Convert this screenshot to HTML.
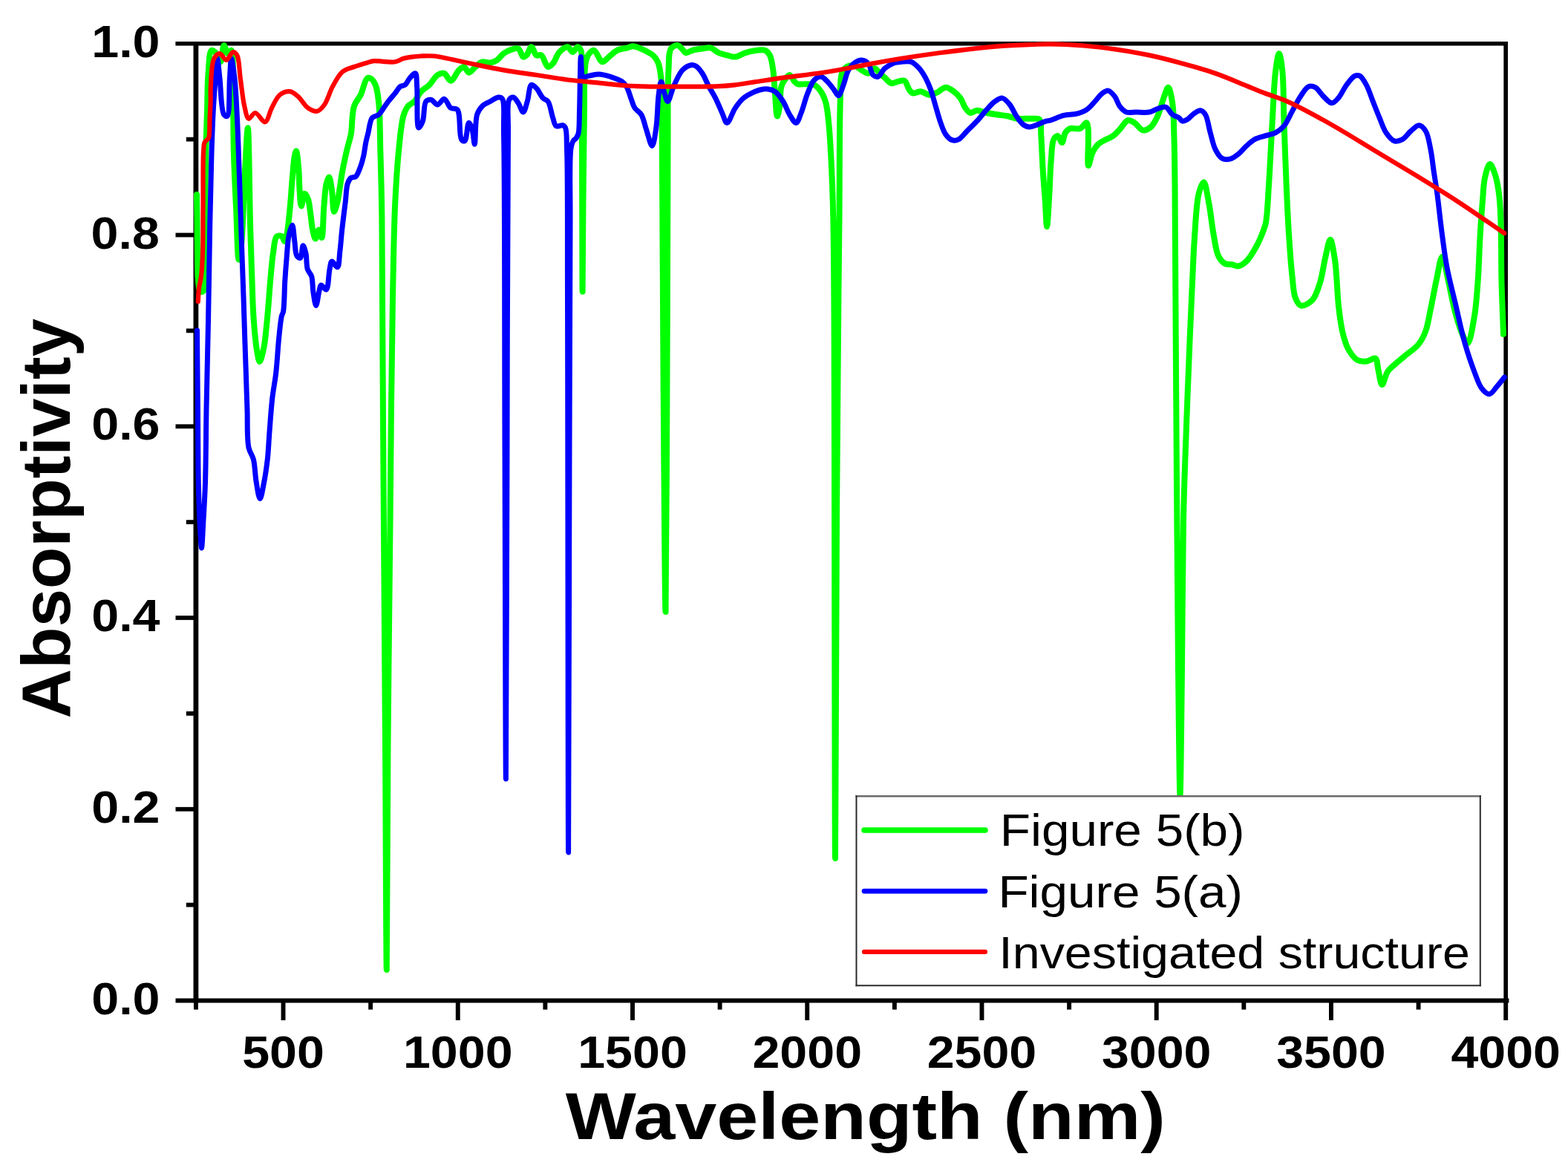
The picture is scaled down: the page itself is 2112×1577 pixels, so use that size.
<!DOCTYPE html>
<html><head><meta charset="utf-8"><title>Absorptivity vs Wavelength</title>
<style>html,body{margin:0;padding:0;background:#fff;overflow:hidden}svg{display:block}</style>
</head><body><svg width="2112" height="1577" viewBox="0 0 2112 1577"><rect id="bg" x="0" y="0" width="2112" height="1577" fill="#fff"/><g stroke="#000" stroke-linecap="butt"><line x1="263.9" y1="56" x2="263.9" y2="1350.2" stroke-width="6.8"/><line x1="236.4" y1="58.75" x2="2031" y2="58.75" stroke-width="5.5"/><line x1="2028.2" y1="56" x2="2028.2" y2="1350.2" stroke-width="5.7"/><line x1="236.5" y1="1347.50" x2="2032.4" y2="1347.50" stroke-width="5.9"/><line x1="250.8" y1="1218.62" x2="263.9" y2="1218.62" stroke-width="5.8"/><line x1="236.5" y1="1089.75" x2="263.9" y2="1089.75" stroke-width="5.8"/><line x1="250.8" y1="960.88" x2="263.9" y2="960.88" stroke-width="5.8"/><line x1="236.5" y1="832.00" x2="263.9" y2="832.00" stroke-width="5.8"/><line x1="250.8" y1="703.12" x2="263.9" y2="703.12" stroke-width="5.8"/><line x1="236.5" y1="574.25" x2="263.9" y2="574.25" stroke-width="5.8"/><line x1="250.8" y1="445.38" x2="263.9" y2="445.38" stroke-width="5.8"/><line x1="236.5" y1="316.50" x2="263.9" y2="316.50" stroke-width="5.8"/><line x1="250.8" y1="187.62" x2="263.9" y2="187.62" stroke-width="5.8"/><line x1="263.90" y1="1347.5" x2="263.90" y2="1359.6" stroke-width="5.9"/><line x1="381.52" y1="1347.5" x2="381.52" y2="1374.0" stroke-width="5.9"/><line x1="499.14" y1="1347.5" x2="499.14" y2="1359.6" stroke-width="5.9"/><line x1="616.76" y1="1347.5" x2="616.76" y2="1374.0" stroke-width="5.9"/><line x1="734.38" y1="1347.5" x2="734.38" y2="1359.6" stroke-width="5.9"/><line x1="852.00" y1="1347.5" x2="852.00" y2="1374.0" stroke-width="5.9"/><line x1="969.62" y1="1347.5" x2="969.62" y2="1359.6" stroke-width="5.9"/><line x1="1087.24" y1="1347.5" x2="1087.24" y2="1374.0" stroke-width="5.9"/><line x1="1204.86" y1="1347.5" x2="1204.86" y2="1359.6" stroke-width="5.9"/><line x1="1322.48" y1="1347.5" x2="1322.48" y2="1374.0" stroke-width="5.9"/><line x1="1440.10" y1="1347.5" x2="1440.10" y2="1359.6" stroke-width="5.9"/><line x1="1557.72" y1="1347.5" x2="1557.72" y2="1374.0" stroke-width="5.9"/><line x1="1675.34" y1="1347.5" x2="1675.34" y2="1359.6" stroke-width="5.9"/><line x1="1792.96" y1="1347.5" x2="1792.96" y2="1374.0" stroke-width="5.9"/><line x1="1910.58" y1="1347.5" x2="1910.58" y2="1359.6" stroke-width="5.9"/><line x1="2028.20" y1="1347.5" x2="2028.20" y2="1374.0" stroke-width="5.9"/></g><defs><clipPath id="pc"><rect x="257.9" y="53.8" width="1774.3" height="1298.8"/></clipPath></defs><g clip-path="url(#pc)" fill="none" stroke-linejoin="round" stroke-linecap="round"><path d="M265.0,262.0C265.2,274.7 265.3,286.5 265.5,300.0C265.7,315.5 265.7,335.7 266.0,350.0C266.2,360.7 266.1,370.1 267.0,378.0C267.7,383.8 268.0,391.7 270.0,393.0C271.1,393.7 273.0,393.2 274.0,392.0C276.3,389.2 275.1,379.4 275.5,370.0C276.2,353.2 276.1,322.4 276.3,300.0C276.5,279.2 276.6,258.6 276.8,240.0C277.0,223.9 277.1,210.0 277.5,195.0C277.9,180.0 278.5,165.4 279.0,150.0C279.5,133.8 279.2,114.8 280.5,100.0C281.5,88.1 281.5,69.6 285.0,68.0C286.7,67.2 289.7,70.1 291.6,72.2C294.0,74.8 295.7,83.5 297.2,83.3C299.3,83.0 299.6,61.4 301.6,61.1C303.1,60.9 305.1,71.9 307.1,72.2C308.5,72.4 310.4,67.3 311.6,67.8C314.9,69.1 313.3,97.9 313.8,116.6C314.5,141.8 314.1,176.7 314.9,205.3C315.6,232.1 317.0,258.2 318.2,283.1C319.3,306.2 319.9,349.6 321.6,349.7C322.6,349.8 324.0,339.1 325.0,330.0C327.3,309.5 328.3,258.8 330.0,230.0C331.3,208.1 332.7,172.2 333.8,172.2C335.4,172.2 336.0,268.2 337.1,305.0C337.9,331.1 338.5,350.8 339.3,372.0C340.0,391.2 340.3,409.6 341.5,427.0C342.6,442.7 344.1,460.8 346.0,471.7C347.1,478.2 348.3,487.0 349.8,487.0C351.4,487.0 353.8,475.5 355.3,468.5C357.2,459.7 358.0,448.0 359.1,438.0C360.1,428.5 360.8,419.3 361.6,410.0C362.4,400.9 362.8,393.1 363.7,383.0C364.9,370.0 366.3,350.4 368.2,338.6C369.5,330.6 369.6,321.3 372.6,318.6C374.3,317.1 377.5,317.1 379.3,318.0C381.3,319.0 382.3,325.1 383.5,325.0C384.8,324.8 385.6,319.4 386.5,315.0C388.2,306.8 389.5,291.2 390.7,279.0C391.9,266.5 392.6,253.0 393.7,241.0C394.7,230.3 395.4,217.0 396.8,210.5C397.5,207.3 398.3,203.5 399.0,203.6C400.2,203.7 401.3,217.7 402.1,225.7C403.0,235.0 402.9,246.9 403.6,256.1C404.2,263.9 404.6,277.4 405.9,277.5C407.0,277.6 408.6,261.0 410.5,260.7C411.8,260.5 413.8,265.1 415.0,268.3C416.7,273.0 417.1,280.2 418.1,286.6C419.2,293.8 419.7,303.0 421.1,309.4C422.1,314.1 423.5,321.6 424.9,321.6C426.3,321.6 428.1,309.4 429.5,309.4C430.8,309.4 432.3,320.2 433.3,320.1C435.2,319.8 435.2,291.7 436.3,279.0C437.3,268.1 437.7,255.8 439.4,248.5C440.4,244.2 442.1,238.5 443.2,238.6C444.7,238.7 445.9,249.5 447.0,256.1C448.3,264.5 448.3,284.9 450.0,285.1C451.2,285.2 453.4,276.3 454.6,271.4C456.0,265.8 456.7,259.3 457.7,253.1C458.7,246.6 459.5,240.1 460.7,233.3C462.0,226.0 463.7,217.7 465.3,210.5C466.7,204.0 468.4,197.7 469.8,192.2C470.9,187.7 472.0,185.2 472.9,180.0C474.5,171.1 473.8,152.6 476.9,143.2C479.0,136.7 483.0,133.4 485.8,127.7C489.0,121.1 491.3,107.7 494.6,105.5C496.0,104.5 497.6,104.8 499.1,105.5C501.4,106.6 504.0,110.4 505.7,114.3C508.3,120.2 509.1,128.6 510.2,138.8C512.0,155.5 511.7,181.5 512.4,205.3C513.2,232.7 513.9,256.3 514.4,294.0C515.3,360.6 515.3,467.8 516.0,570.0C516.8,697.5 518.2,868.8 519.0,1000.0C519.7,1110.7 520.2,1306.0 520.8,1306.0C521.4,1306.0 521.7,1101.7 522.5,1000.0C523.3,898.8 524.8,781.9 525.6,697.0C526.2,635.5 526.5,589.1 527.1,538.0C527.7,490.4 528.1,445.1 529.0,400.0C529.9,356.5 530.5,309.3 532.3,271.9C533.7,242.8 535.6,215.5 537.9,194.2C539.5,179.2 540.7,165.2 543.4,156.0C545.1,150.4 546.7,146.5 549.4,143.2C551.8,140.2 555.6,139.4 558.3,136.5C561.6,133.0 563.7,127.0 567.2,123.2C570.5,119.6 574.8,117.8 578.3,114.3C582.2,110.5 585.5,103.5 589.4,101.0C592.3,99.2 595.6,97.9 598.3,98.8C601.6,99.8 604.1,108.9 607.1,108.8C610.7,108.7 614.7,97.6 618.2,94.4C620.5,92.2 622.8,89.7 624.9,90.0C627.3,90.3 629.0,97.5 631.5,97.7C634.2,97.9 637.4,92.4 640.4,90.0C643.3,87.6 646.0,84.2 649.3,83.3C652.6,82.4 657.0,84.8 660.4,84.4C663.6,84.0 666.5,82.9 669.3,81.1C672.5,79.0 674.8,74.6 678.1,72.2C681.4,69.8 685.6,67.7 689.2,66.6C692.2,65.7 695.6,64.3 698.1,65.5C701.1,66.9 702.5,75.9 704.8,76.6C706.2,77.0 707.8,75.7 709.2,74.4C711.5,72.3 713.6,63.3 715.8,63.3C718.0,63.3 719.8,72.9 722.5,74.4C724.5,75.5 727.1,73.2 729.2,74.4C732.6,76.4 734.8,89.2 738.0,90.0C740.1,90.5 742.6,87.8 744.7,85.5C747.9,82.1 749.9,73.8 753.6,70.0C756.8,66.8 761.6,62.9 764.7,63.3C767.3,63.6 769.1,70.0 771.3,70.0C773.5,70.0 776.0,63.3 778.0,63.3C779.6,63.3 781.3,65.2 782.4,67.8C785.5,75.2 783.2,95.8 783.5,116.6C784.0,153.8 784.0,223.4 784.2,271.9C784.4,314.7 784.4,392.8 784.6,392.8C784.8,392.8 785.1,311.3 785.5,271.9C785.9,234.1 786.1,194.7 786.8,161.0C787.4,132.8 786.0,97.4 789.0,83.3C790.2,77.8 791.3,74.9 793.5,72.2C795.3,70.0 797.9,67.4 800.2,67.8C803.7,68.5 807.4,82.7 811.2,83.3C814.1,83.8 817.0,79.0 820.1,76.6C823.6,73.9 827.1,69.8 831.2,67.8C835.4,65.8 841.1,65.4 845.0,64.4C848.0,63.6 849.8,62.1 852.8,62.2C857.1,62.4 863.7,65.6 868.3,67.8C872.4,69.7 876.4,71.7 879.4,74.4C882.2,76.9 884.3,79.4 886.0,83.3C888.5,88.8 889.5,96.4 890.5,105.5C892.1,119.8 891.3,134.7 891.6,161.0C892.4,226.1 892.7,388.3 893.5,500.0C894.3,609.2 895.7,824.0 896.5,824.0C897.3,824.0 898.0,605.9 898.5,500.0C899.0,398.1 899.0,274.5 899.5,200.0C899.8,155.8 899.0,118.6 900.5,94.4C901.3,81.7 900.2,70.6 903.8,65.5C905.9,62.5 910.0,60.8 912.7,61.1C915.2,61.4 917.3,64.8 919.3,66.6C921.0,68.1 921.9,70.7 923.8,71.1C926.1,71.6 929.3,68.7 932.6,67.8C936.5,66.7 941.7,66.1 945.9,65.5C949.8,65.0 953.4,63.6 957.0,64.4C960.8,65.3 964.3,69.4 968.1,71.1C971.7,72.7 975.5,73.5 979.2,74.4C982.9,75.3 986.6,76.9 990.3,76.6C994.1,76.3 997.7,73.5 1001.4,72.2C1005.1,70.9 1008.3,69.6 1012.5,68.9C1017.7,68.0 1026.0,66.2 1030.3,67.8C1033.4,69.0 1035.2,71.3 1036.9,74.4C1039.4,79.0 1040.2,87.2 1041.3,94.4C1042.6,102.6 1042.7,111.5 1043.6,121.0C1044.6,132.0 1045.4,156.4 1046.9,156.5C1047.8,156.6 1049.3,148.4 1050.2,143.2C1051.4,135.9 1050.6,123.0 1052.4,116.6C1053.5,112.7 1055.0,110.3 1056.9,107.7C1058.7,105.1 1061.4,100.9 1063.5,101.0C1065.8,101.2 1068.1,107.8 1070.2,109.9C1071.7,111.4 1072.7,112.6 1074.6,113.2C1077.4,114.1 1082.0,113.0 1085.7,113.2C1089.4,113.4 1093.5,112.8 1096.8,114.3C1100.3,115.9 1103.2,119.5 1105.7,123.2C1108.6,127.5 1110.7,132.5 1112.4,138.8C1114.8,147.7 1115.6,159.5 1116.8,172.0C1118.3,188.1 1119.2,208.2 1120.1,227.5C1121.1,248.7 1121.8,269.3 1122.3,294.0C1123.0,325.2 1123.1,348.6 1123.4,400.0C1124.3,537.3 1124.3,1156.0 1125.0,1156.0C1125.6,1156.0 1126.2,836.1 1127.0,700.0C1127.7,589.6 1128.7,474.6 1129.4,400.0C1129.8,355.7 1130.1,332.7 1130.5,294.0C1130.9,247.2 1130.6,173.6 1131.7,138.8C1132.3,121.1 1130.9,107.1 1133.9,98.8C1135.5,94.5 1137.6,91.7 1140.5,90.0C1143.5,88.3 1148.2,88.0 1151.6,88.8C1154.9,89.6 1157.5,92.7 1160.5,94.4C1163.4,96.0 1166.5,99.1 1169.4,98.8C1172.5,98.5 1175.6,92.0 1178.3,92.2C1180.8,92.4 1182.6,96.7 1184.9,98.8C1187.1,100.8 1189.2,102.4 1191.6,104.4C1194.3,106.7 1197.2,111.3 1200.4,112.1C1203.2,112.8 1206.3,110.5 1209.3,109.9C1212.3,109.4 1215.8,107.5 1218.2,108.8C1221.2,110.4 1222.6,118.1 1224.8,121.0C1226.3,123.0 1227.3,124.8 1229.3,125.4C1232.0,126.2 1236.8,122.9 1240.4,123.2C1244.2,123.6 1247.8,127.5 1251.5,127.7C1255.2,127.9 1259.0,125.9 1262.6,124.3C1266.4,122.6 1270.0,117.8 1273.7,117.7C1277.4,117.6 1281.5,120.8 1284.8,123.2C1288.1,125.6 1291.1,128.6 1293.6,132.1C1296.3,135.9 1297.8,141.9 1300.3,145.4C1302.3,148.2 1304.3,151.4 1306.9,152.0C1309.5,152.6 1312.5,148.9 1315.8,148.7C1319.8,148.5 1324.6,151.1 1329.1,152.0C1333.5,152.9 1337.8,153.6 1342.4,154.3C1347.4,155.1 1353.3,155.5 1358.0,156.5C1362.0,157.4 1365.4,159.3 1369.1,159.8C1372.8,160.3 1376.5,159.8 1380.2,159.8C1383.9,159.8 1387.8,159.6 1391.3,159.8C1394.4,160.0 1398.1,158.9 1400.1,160.9C1403.2,164.1 1401.6,174.4 1402.3,183.1C1403.2,195.4 1403.7,212.7 1404.6,227.5C1405.5,242.3 1406.9,258.2 1407.9,271.9C1408.7,283.8 1409.3,305.2 1410.1,305.2C1411.1,305.2 1412.5,275.6 1413.4,260.8C1414.3,246.0 1414.5,229.6 1415.7,216.4C1416.7,205.7 1416.5,192.8 1419.4,187.6C1420.9,185.0 1423.3,182.8 1425.0,183.1C1427.1,183.5 1428.9,192.2 1430.5,192.0C1432.3,191.8 1432.8,182.0 1435.0,178.7C1436.8,176.1 1438.8,174.1 1441.6,173.1C1445.1,171.8 1451.1,174.5 1454.9,173.1C1458.5,171.8 1461.7,164.5 1463.8,165.4C1468.6,167.5 1463.6,222.8 1466.0,223.1C1467.3,223.3 1469.1,210.4 1471.6,205.3C1473.7,201.0 1476.1,197.2 1479.3,194.2C1482.4,191.3 1486.9,189.5 1490.4,187.6C1493.5,185.9 1496.5,185.1 1499.3,183.1C1502.5,180.8 1505.1,177.5 1508.2,174.3C1511.7,170.6 1515.5,162.9 1519.3,162.0C1522.2,161.3 1525.2,163.6 1528.2,165.4C1531.9,167.7 1535.4,174.7 1539.3,175.4C1542.8,176.0 1547.2,173.5 1550.3,170.9C1554.0,167.7 1556.5,162.2 1559.2,156.5C1562.6,149.1 1565.3,137.0 1568.1,129.9C1570.0,125.0 1571.9,117.6 1573.6,117.7C1575.7,117.9 1577.9,130.4 1579.2,138.8C1581.1,150.8 1580.9,166.8 1581.4,183.1C1582.1,203.0 1582.2,220.4 1582.5,249.7C1583.1,306.5 1583.4,406.8 1584.0,500.0C1584.8,617.8 1585.8,794.6 1587.0,900.0C1587.8,968.9 1588.7,1071.0 1589.5,1071.0C1590.3,1071.0 1591.3,959.2 1592.0,900.0C1592.8,835.9 1592.8,758.3 1594.0,700.0C1594.9,654.6 1596.4,619.8 1597.8,579.0C1599.3,537.2 1601.3,488.6 1602.8,452.2C1603.9,424.8 1604.9,403.0 1606.0,380.0C1607.0,359.1 1607.5,339.9 1609.0,320.0C1610.4,300.2 1611.3,274.0 1614.7,260.8C1616.5,253.8 1619.3,245.1 1621.3,245.3C1623.9,245.5 1626.0,261.9 1628.0,271.9C1630.6,284.7 1632.2,303.0 1634.7,316.2C1636.7,326.9 1637.8,338.3 1641.3,345.1C1643.7,349.7 1646.9,353.4 1650.2,355.1C1652.9,356.5 1656.2,355.7 1659.1,356.2C1662.1,356.8 1664.9,358.9 1667.9,358.4C1671.5,357.9 1675.5,355.1 1679.0,351.7C1683.8,347.1 1688.5,338.6 1692.3,331.8C1695.9,325.3 1699.0,317.6 1701.2,311.8C1702.9,307.4 1703.9,305.4 1705.0,300.0C1707.1,289.2 1707.7,269.1 1709.0,250.0C1710.7,224.6 1712.2,188.5 1713.9,161.0C1715.3,137.2 1716.1,110.6 1718.3,94.4C1719.6,85.0 1721.3,72.2 1722.8,72.2C1724.3,72.2 1726.1,85.0 1727.2,94.4C1729.1,110.6 1728.6,137.2 1729.4,161.0C1730.4,188.5 1731.5,222.3 1732.7,249.7C1733.7,273.5 1734.7,295.1 1736.1,316.3C1737.4,335.7 1738.7,356.2 1740.5,371.8C1741.8,383.2 1742.0,394.3 1744.9,401.4C1746.8,406.0 1749.1,410.8 1752.5,411.6C1756.4,412.5 1763.7,408.2 1767.7,404.0C1772.6,398.9 1775.0,389.8 1777.8,381.2C1781.2,370.8 1782.8,356.2 1785.4,345.7C1787.5,337.2 1789.8,322.7 1791.8,322.8C1794.0,322.9 1796.4,339.4 1798.1,350.7C1800.7,367.5 1801.1,396.4 1803.2,414.1C1804.7,426.9 1805.9,437.2 1808.3,447.1C1810.3,455.5 1812.3,463.4 1815.9,469.9C1819.2,475.8 1823.7,482.5 1828.5,485.1C1832.4,487.2 1837.1,486.8 1841.2,486.4C1845.2,486.0 1850.1,481.2 1852.6,482.6C1855.5,484.2 1855.0,492.4 1856.4,497.8C1858.0,504.1 1859.3,517.9 1861.5,518.1C1863.6,518.3 1865.8,505.2 1869.1,500.4C1871.9,496.2 1875.5,493.7 1879.3,490.2C1883.8,486.1 1889.4,481.7 1894.5,477.5C1899.6,473.3 1905.5,469.8 1909.7,464.8C1914.0,459.7 1917.0,454.2 1919.8,447.1C1923.4,438.0 1924.9,425.5 1927.4,414.1C1930.0,401.9 1932.3,388.0 1935.0,376.1C1937.4,365.4 1940.1,345.7 1942.7,345.7C1945.2,345.7 1947.7,364.9 1950.3,376.1C1953.5,389.7 1956.6,408.1 1960.4,421.7C1963.5,433.0 1967.2,444.9 1970.6,452.2C1972.7,456.6 1974.9,462.6 1976.9,462.3C1980.3,461.8 1983.5,439.8 1985.8,426.8C1988.5,411.5 1989.5,393.4 1990.8,376.1C1992.1,357.9 1992.4,338.2 1993.5,320.0C1994.5,302.8 1995.7,284.7 1997.0,270.0C1998.0,258.3 1998.1,247.5 2000.2,238.6C2001.8,231.7 2004.4,221.0 2006.8,220.9C2008.9,220.8 2011.6,228.9 2013.5,234.2C2016.0,241.4 2017.7,251.0 2019.0,260.8C2020.6,272.6 2020.9,284.6 2021.5,300.0C2022.3,322.0 2021.9,354.2 2022.5,380.0C2023.1,404.1 2024.2,426.7 2025.0,450.0" stroke="#00ff00" stroke-width="8"/><path d="M265.5,445.0C265.8,483.3 266.2,523.0 266.5,560.0C266.8,594.5 266.7,630.9 267.5,660.0C268.1,682.5 269.1,705.9 270.0,720.0C270.5,727.8 271.0,738.0 271.5,738.0C272.3,738.0 273.2,713.5 274.0,700.0C274.9,684.5 275.9,669.5 276.5,650.0C277.4,622.4 277.4,584.6 278.0,550.0C278.7,512.5 279.7,472.9 280.5,433.0C281.3,391.3 281.9,345.0 282.7,305.0C283.4,269.7 284.1,233.9 285.0,205.5C285.7,184.3 286.3,166.2 287.2,150.0C287.9,137.5 288.5,128.1 289.4,116.6C290.3,104.4 291.5,78.8 292.7,78.8C293.7,78.8 294.8,95.3 296.0,105.5C297.6,119.3 297.6,148.6 301.6,154.3C302.9,156.1 304.8,157.2 306.0,156.5C309.9,154.3 308.3,119.8 309.4,105.5C310.2,95.2 310.5,78.8 311.6,78.8C312.7,78.8 314.8,95.0 316.0,105.5C317.7,120.4 318.5,140.1 319.5,160.0C320.7,184.1 321.5,212.5 322.5,240.0C323.5,269.1 324.5,301.9 325.5,330.0C326.4,354.8 327.2,377.6 328.0,400.0C328.7,420.8 329.3,441.2 329.9,460.0C330.4,476.6 331.0,491.5 331.5,507.0C332.0,522.2 332.4,536.5 333.0,552.0C333.6,568.5 332.4,591.1 335.0,603.0C336.5,609.8 339.7,612.2 341.3,618.3C343.5,626.6 343.5,639.3 345.1,648.7C346.5,656.9 348.4,671.6 350.2,671.6C351.9,671.6 353.8,658.9 355.3,651.3C357.2,641.7 359.0,629.5 360.3,618.3C361.6,606.7 361.9,595.3 362.9,582.7C364.0,568.4 365.1,551.3 366.7,537.0C368.1,524.4 370.4,514.1 371.8,501.5C373.4,487.2 374.2,469.5 375.6,455.8C376.8,444.6 377.9,431.4 379.4,425.4C380.1,422.8 380.9,422.7 381.5,420.0C383.1,412.7 383.0,390.9 383.8,378.0C384.5,367.0 385.2,357.7 386.1,347.5C387.0,337.3 387.4,325.1 389.1,317.0C390.3,311.5 392.5,303.2 393.7,303.3C395.2,303.4 395.8,317.7 396.8,324.7C397.8,331.4 397.5,341.0 399.8,344.5C401.0,346.3 403.2,348.0 404.4,347.5C406.6,346.6 406.8,330.9 408.2,330.8C409.4,330.7 411.0,337.2 412.0,341.4C413.3,347.2 412.5,357.2 414.3,362.7C415.6,366.6 418.3,368.0 419.6,371.9C421.4,377.4 420.8,386.4 421.9,393.2C422.9,399.6 424.4,411.5 425.7,411.5C427.1,411.5 428.9,395.0 430.3,390.1C431.1,387.4 431.2,384.3 432.5,384.0C434.0,383.6 437.6,390.7 439.4,390.1C442.5,389.0 442.4,369.7 444.0,362.7C445.0,358.3 445.2,352.6 447.0,352.1C448.8,351.6 452.8,360.3 454.6,359.7C457.0,358.9 456.8,347.2 457.7,339.9C458.9,330.8 459.5,320.1 460.7,309.4C462.0,297.4 463.9,282.7 465.3,271.4C466.4,262.4 466.3,252.7 468.3,247.0C469.5,243.6 470.9,240.9 472.9,239.4C474.6,238.2 477.2,239.3 479.0,237.9C481.6,235.8 483.4,230.1 485.1,225.7C487.0,221.0 488.4,215.8 489.6,210.5C490.9,204.7 491.6,197.7 492.7,192.2C493.6,187.7 494.5,184.6 495.7,180.0C497.3,173.9 497.9,162.9 501.3,158.7C503.6,155.9 507.4,156.7 510.2,154.3C514.1,151.0 517.5,143.7 521.3,138.8C524.9,134.1 529.1,129.4 532.3,125.4C534.8,122.2 536.5,118.4 539.0,116.6C541.0,115.1 543.7,115.8 545.7,114.3C548.1,112.5 549.4,108.1 551.7,105.5C554.0,103.0 557.7,98.1 559.4,98.8C561.7,99.7 561.0,109.0 561.6,116.6C562.7,129.9 560.7,171.2 563.9,172.0C565.3,172.4 567.9,167.1 569.4,163.2C571.8,156.9 570.4,140.5 573.8,136.5C575.5,134.5 578.2,133.9 580.5,134.3C583.4,134.8 586.5,141.1 589.4,141.0C592.4,140.9 595.5,132.9 598.3,133.2C601.5,133.6 603.7,143.1 607.1,145.4C609.8,147.2 613.7,145.1 616.0,147.6C620.8,152.9 617.9,182.6 621.5,187.6C622.8,189.4 624.7,190.4 626.0,189.8C628.9,188.4 629.3,165.7 631.5,165.4C632.9,165.2 634.8,170.6 636.0,174.3C637.7,179.5 638.3,194.2 639.3,194.2C640.7,194.1 639.7,163.3 642.6,154.3C644.3,149.2 646.3,146.2 649.3,143.2C652.3,140.2 656.7,138.6 660.4,136.5C664.1,134.5 668.5,131.1 671.5,131.0C673.5,130.9 675.2,131.2 676.5,133.0C680.3,138.4 678.0,156.5 678.5,180.0C680.1,250.2 679.5,457.7 680.0,600.0C680.5,747.2 680.9,1049.0 681.4,1049.0C681.9,1049.0 682.5,747.2 683.0,600.0C683.5,457.7 683.2,249.6 684.5,180.0C684.9,157.0 682.3,140.1 686.0,134.0C687.4,131.8 689.6,130.7 691.4,131.0C693.7,131.4 696.0,135.8 698.1,138.8C700.5,142.3 702.8,151.1 704.8,151.0C706.9,150.9 708.6,141.9 710.3,136.5C712.3,129.9 712.8,115.5 715.8,114.3C717.6,113.6 720.3,116.6 722.5,118.8C725.6,121.9 728.3,129.0 731.4,132.1C733.6,134.3 736.1,134.0 738.0,136.5C741.2,140.8 742.6,152.6 744.7,158.7C746.2,163.1 746.6,168.3 749.1,169.8C751.3,171.1 755.8,168.0 758.0,168.7C759.6,169.2 760.6,170.1 761.5,172.0C763.7,176.6 763.0,186.4 763.5,200.0C764.9,236.3 764.2,312.1 764.5,400.0C765.0,570.0 765.1,1148.0 765.6,1148.0C766.0,1148.0 766.5,755.4 767.0,600.0C767.3,485.1 767.5,373.2 768.0,300.0C768.3,257.7 766.6,215.9 769.0,200.0C769.8,194.9 770.5,192.5 772.0,190.0C773.1,188.2 774.9,187.6 776.0,186.0C777.2,184.3 778.2,182.9 779.0,180.0C780.6,173.9 780.1,161.3 780.5,150.0C781.0,135.5 781.1,113.5 781.5,100.0C781.8,90.7 781.7,76.6 782.4,76.6C783.1,76.6 782.2,100.7 785.7,103.3C787.6,104.7 790.6,102.6 793.5,102.1C797.3,101.5 802.2,99.8 806.8,99.9C811.8,100.0 817.2,101.7 822.3,103.3C827.6,105.0 834.1,107.2 837.9,109.9C840.7,111.9 842.1,113.6 843.9,116.6C846.5,120.9 848.5,129.1 850.5,134.3C852.1,138.4 852.8,142.1 855.0,145.4C857.2,148.8 861.4,150.4 863.8,154.3C866.9,159.4 868.2,167.5 870.5,174.3C873.0,181.5 876.1,196.5 878.3,196.4C880.6,196.3 882.4,181.4 883.8,172.0C885.7,159.5 885.6,139.1 887.1,127.7C888.1,120.4 889.1,110.0 890.5,109.9C891.8,109.8 893.3,120.7 894.9,125.4C896.3,129.4 897.6,136.5 899.3,136.5C901.7,136.5 904.8,121.4 908.2,114.3C911.5,107.4 914.9,98.9 919.3,94.4C922.6,91.0 927.1,88.3 930.4,87.7C932.8,87.2 934.8,87.6 937.0,88.8C940.1,90.5 943.3,94.8 946.0,98.8C949.3,103.7 951.8,110.9 954.8,116.6C957.7,122.0 960.9,126.5 963.7,132.1C966.8,138.2 969.8,146.0 972.6,152.0C974.9,156.9 976.6,165.3 979.2,165.4C982.4,165.5 986.3,151.2 990.3,145.4C993.8,140.3 997.4,135.5 1001.4,132.1C1004.9,129.1 1008.7,127.3 1012.5,125.4C1016.1,123.6 1019.8,121.9 1023.6,121.0C1027.2,120.1 1031.3,119.5 1034.7,119.9C1037.9,120.3 1040.7,121.2 1043.6,123.2C1047.5,125.9 1051.5,131.5 1054.7,136.5C1058.2,141.8 1060.3,149.2 1063.5,154.3C1066.2,158.6 1069.8,165.7 1072.4,165.4C1075.0,165.1 1076.9,157.3 1079.1,152.0C1082.1,144.7 1084.6,133.3 1087.9,125.4C1090.6,118.8 1093.1,111.4 1096.8,107.7C1099.4,105.1 1102.8,103.0 1105.7,103.3C1108.8,103.6 1111.8,107.2 1114.6,109.9C1117.8,113.0 1120.8,117.6 1123.4,121.0C1125.6,123.8 1127.5,129.0 1129.4,128.8C1131.8,128.5 1134.0,119.6 1136.1,114.3C1138.5,108.2 1139.8,99.7 1142.8,94.4C1145.2,90.2 1148.4,86.6 1151.6,84.4C1154.3,82.5 1157.6,80.9 1160.5,81.1C1163.5,81.3 1167.0,82.9 1169.4,85.5C1172.5,88.8 1173.0,98.3 1176.0,101.0C1177.9,102.8 1180.5,103.9 1182.7,103.3C1185.8,102.4 1188.2,95.2 1191.6,92.2C1194.9,89.3 1198.9,87.0 1202.7,85.5C1206.3,84.1 1209.9,83.7 1213.8,83.3C1218.0,82.9 1223.1,81.9 1227.1,83.3C1231.3,84.8 1235.0,88.6 1238.2,92.2C1241.6,96.0 1244.4,100.8 1247.0,105.5C1249.6,110.4 1251.6,115.3 1253.7,121.0C1256.1,127.7 1258.1,135.8 1260.3,143.2C1262.5,150.6 1264.6,158.7 1267.0,165.4C1269.1,171.1 1270.8,176.9 1273.7,180.9C1276.1,184.3 1279.3,187.7 1282.5,188.7C1285.3,189.6 1288.5,189.0 1291.4,187.6C1295.2,185.7 1298.6,180.4 1302.5,176.5C1306.7,172.3 1311.5,167.9 1315.8,163.2C1320.3,158.3 1324.8,152.3 1329.1,147.6C1332.9,143.5 1336.3,139.1 1340.2,136.5C1343.4,134.3 1347.0,131.6 1350.2,132.1C1353.7,132.7 1357.2,137.3 1360.2,141.0C1363.6,145.2 1365.9,151.9 1369.1,156.5C1371.9,160.6 1374.7,165.2 1378.0,167.6C1380.7,169.6 1383.7,170.8 1386.8,170.9C1390.3,171.0 1394.2,168.9 1397.9,167.6C1401.6,166.3 1405.8,164.1 1409.0,163.2C1411.3,162.5 1412.5,162.7 1415.0,162.0C1419.4,160.8 1426.8,156.9 1432.8,155.4C1438.6,154.0 1445.1,154.6 1450.5,153.2C1455.3,151.9 1459.8,150.3 1463.8,147.6C1468.0,144.8 1471.5,140.2 1474.9,136.5C1478.1,133.1 1480.6,129.0 1483.8,126.5C1486.6,124.4 1489.9,121.7 1492.7,122.1C1495.8,122.5 1499.0,126.7 1501.5,129.9C1504.3,133.5 1505.4,139.6 1508.2,143.2C1510.7,146.4 1513.5,149.7 1517.1,151.0C1520.9,152.4 1525.7,151.0 1530.4,151.0C1535.9,151.0 1543.0,152.0 1548.1,151.0C1552.3,150.2 1555.4,147.6 1559.2,146.5C1562.8,145.4 1567.1,143.2 1570.3,144.3C1573.8,145.5 1576.0,151.8 1579.2,154.3C1582.0,156.4 1585.8,157.0 1588.1,158.7C1590.0,160.1 1590.7,162.8 1592.5,163.2C1594.4,163.6 1596.9,162.2 1599.2,160.9C1602.1,159.2 1604.9,155.3 1608.0,153.2C1610.8,151.3 1614.2,148.4 1616.9,148.7C1619.4,149.0 1621.7,151.4 1623.6,154.3C1626.8,159.3 1627.9,170.8 1630.2,178.7C1632.4,186.3 1633.9,194.8 1636.9,200.9C1639.3,205.8 1642.1,211.0 1645.8,213.1C1648.9,214.9 1653.3,215.0 1656.8,214.2C1660.6,213.3 1664.4,210.3 1667.9,207.5C1671.8,204.5 1675.2,199.8 1679.0,196.4C1682.6,193.2 1686.0,189.8 1690.1,187.6C1694.2,185.4 1698.8,184.5 1703.4,183.1C1708.2,181.6 1713.9,181.0 1718.3,178.7C1722.5,176.5 1726.0,173.8 1729.4,169.8C1733.6,164.8 1736.8,156.5 1740.5,149.9C1744.2,143.2 1747.6,135.7 1751.6,129.9C1755.1,124.8 1758.8,118.2 1762.7,116.6C1765.5,115.5 1768.7,116.2 1771.6,117.7C1775.5,119.7 1778.9,126.3 1782.7,129.9C1786.3,133.3 1790.3,138.8 1793.8,138.8C1796.9,138.8 1799.8,135.2 1802.6,132.1C1806.5,127.8 1809.8,119.6 1813.7,114.4C1817.2,109.8 1821.2,103.8 1824.8,102.2C1827.1,101.2 1829.4,101.1 1831.5,102.2C1834.7,103.8 1837.7,109.5 1840.4,114.4C1843.8,120.5 1846.3,129.2 1849.3,136.6C1852.2,144.0 1855.1,151.5 1858.1,158.7C1861.0,165.6 1863.3,173.3 1867.0,178.7C1870.2,183.3 1874.0,188.6 1878.1,189.8C1881.5,190.8 1885.8,189.4 1889.2,187.6C1893.3,185.4 1896.5,179.7 1900.3,176.5C1903.9,173.5 1908.0,168.5 1911.4,168.7C1914.6,168.9 1917.9,172.7 1920.3,176.5C1923.8,182.1 1925.1,192.2 1926.9,200.9C1928.9,210.6 1929.9,221.8 1931.4,232.0C1932.9,241.8 1934.3,249.6 1935.8,260.8C1937.9,276.3 1940.1,298.8 1942.5,316.3C1944.6,331.9 1946.2,345.6 1949.1,360.7C1952.1,376.5 1956.5,392.5 1960.4,409.0C1964.5,426.3 1968.5,446.1 1973.1,462.3C1977.1,476.2 1981.5,489.4 1985.8,500.4C1989.2,509.1 1991.7,518.0 1995.9,523.2C1998.9,526.9 2002.8,531.0 2006.1,530.8C2009.6,530.5 2012.9,524.3 2016.2,520.6C2019.7,516.7 2023.0,512.2 2026.4,508.0" stroke="#0000ff" stroke-width="7"/><path d="M266.8,406.0C267.2,400.0 267.3,393.8 268.0,388.0C268.7,382.5 270.2,378.3 271.0,372.0C272.1,363.2 272.6,352.3 273.0,340.0C273.6,323.1 273.3,301.1 273.5,280.0C273.7,256.4 273.1,219.7 274.0,205.0C274.4,198.9 274.3,194.7 275.5,192.0C276.1,190.5 277.1,190.0 278.0,189.0C278.9,188.0 280.2,187.7 281.0,186.0C282.9,181.7 282.1,168.5 282.5,160.0C282.9,151.8 283.4,143.5 283.6,136.0C283.8,129.3 283.3,124.4 283.8,117.0C284.5,106.5 284.5,86.2 288.3,79.0C290.3,75.3 293.4,72.1 296.0,72.2C298.9,72.3 302.0,81.2 304.9,81.0C308.0,80.8 311.0,70.3 313.8,70.0C315.7,69.8 317.8,71.8 319.3,74.4C322.4,79.8 322.2,94.6 323.8,105.5C325.5,117.5 326.9,133.3 329.3,143.2C330.9,149.9 332.1,159.0 334.9,159.8C337.2,160.4 340.6,152.0 343.8,152.0C347.8,152.1 353.5,165.0 357.1,164.3C361.0,163.5 362.7,151.5 366.0,145.4C369.3,139.3 372.4,131.4 377.0,127.7C380.8,124.7 386.2,122.7 390.3,123.2C394.3,123.6 397.8,126.8 401.4,129.9C406.0,133.8 410.0,142.1 414.8,145.4C418.6,148.0 423.3,150.5 427.0,149.8C430.7,149.1 434.0,145.1 437.0,141.0C441.3,135.2 443.8,124.2 448.0,116.6C452.0,109.4 455.9,101.1 461.3,96.6C465.8,92.8 471.5,92.0 476.9,90.0C482.6,87.9 489.7,85.8 494.6,84.4C498.1,83.4 499.7,82.6 503.5,82.2C510.3,81.5 525.0,84.6 532.3,83.3C537.0,82.5 539.6,79.9 543.4,78.8C547.2,77.7 551.1,77.1 555.0,76.6C559.0,76.0 562.7,75.7 567.2,75.5C572.6,75.3 579.1,75.0 585.0,75.5C590.9,76.0 596.0,77.5 602.7,78.8C611.6,80.6 622.5,83.1 633.8,85.5C647.3,88.3 663.3,91.8 678.1,94.4C692.9,97.0 707.7,98.8 722.5,101.0C737.3,103.2 752.1,105.8 766.9,107.7C781.7,109.5 797.4,110.7 811.2,112.1C823.2,113.3 833.7,114.7 845.0,115.5C856.4,116.3 867.2,116.4 879.4,116.6C893.3,116.8 909.0,116.7 923.8,116.6C938.6,116.5 955.9,116.7 968.1,116.1C976.8,115.7 982.9,115.1 990.3,114.3C997.7,113.4 1003.8,112.3 1012.5,111.0C1024.8,109.2 1042.1,106.4 1056.9,104.4C1071.7,102.4 1087.5,100.8 1101.3,98.8C1113.3,97.1 1123.7,95.3 1135.0,93.3C1146.4,91.3 1157.2,88.9 1169.4,86.6C1183.2,84.0 1199.0,81.2 1213.8,78.8C1228.6,76.4 1243.3,74.2 1258.1,72.2C1272.9,70.2 1287.7,68.3 1302.5,66.6C1317.3,64.9 1332.1,63.3 1346.9,62.2C1361.7,61.1 1378.8,60.5 1391.3,60.0C1400.4,59.6 1405.9,59.2 1415.0,59.3C1427.5,59.4 1444.6,60.3 1459.4,61.5C1474.2,62.7 1489.0,64.5 1503.8,66.6C1518.6,68.8 1533.4,71.3 1548.1,74.4C1562.9,77.6 1577.7,81.4 1592.5,85.5C1607.3,89.6 1622.2,93.7 1636.9,98.8C1651.8,104.0 1668.8,111.5 1681.3,116.5C1690.4,120.2 1696.6,122.8 1705.0,126.0C1714.4,129.6 1723.6,132.0 1735.0,137.1C1751.2,144.3 1773.2,156.5 1792.1,167.1C1811.3,177.9 1830.2,189.9 1849.2,201.3C1868.2,212.7 1887.3,224.0 1906.3,235.6C1925.4,247.3 1944.0,258.7 1963.4,271.3C1984.0,284.7 2005.3,299.8 2026.2,314.1" stroke="#ff0000" stroke-width="6.2"/></g><g font-family="Liberation Sans, Arial, sans-serif" font-weight="bold" font-size="61.6" fill="#000"><text transform="matrix(1.0770,0,0,1,123.24,1365.70)">0.0</text><text transform="matrix(1.0770,0,0,1,123.24,1107.95)">0.2</text><text transform="matrix(1.0770,0,0,1,123.24,850.20)">0.4</text><text transform="matrix(1.0770,0,0,1,123.24,592.45)">0.6</text><text transform="matrix(1.0770,0,0,1,122.57,334.70)">0.8</text><text transform="matrix(1.0770,0,0,1,123.24,76.95)">1.0</text><text transform="matrix(1.0770,0,0,1,381.52,1438)" text-anchor="middle">500</text><text transform="matrix(1.0770,0,0,1,616.76,1438)" text-anchor="middle">1000</text><text transform="matrix(1.0770,0,0,1,852.00,1438)" text-anchor="middle">1500</text><text transform="matrix(1.0770,0,0,1,1087.24,1438)" text-anchor="middle">2000</text><text transform="matrix(1.0770,0,0,1,1322.48,1438)" text-anchor="middle">2500</text><text transform="matrix(1.0770,0,0,1,1557.72,1438)" text-anchor="middle">3000</text><text transform="matrix(1.0770,0,0,1,1792.96,1438)" text-anchor="middle">3500</text><text transform="matrix(1.0770,0,0,1,2028.20,1438)" text-anchor="middle">4000</text></g><text transform="matrix(1.126,0,0,1,761.8,1534.3)" font-family="Liberation Sans, Arial, sans-serif" font-weight="bold" font-size="89.5">Wavelength (nm)</text><text transform="translate(94.1,967.4) rotate(-90)" font-family="Liberation Sans, Arial, sans-serif" font-weight="bold" font-size="92.3">Absorptivity</text><rect x="1153.5" y="1072.2" width="840.3" height="255.3" fill="#fff"/><g stroke-linecap="square"><line x1="1153.5" y1="1072.2" x2="1993.8" y2="1072.2" stroke="#6a6a6a" stroke-width="2.4"/><line x1="1153.5" y1="1072.2" x2="1153.5" y2="1327.2" stroke="#2a2a2a" stroke-width="2"/><line x1="1993.8" y1="1072.2" x2="1993.8" y2="1327.2" stroke="#2a2a2a" stroke-width="2"/><line x1="1153.5" y1="1327.2" x2="1993.8" y2="1327.2" stroke="#2a2a2a" stroke-width="2"/></g><g stroke-linecap="round"><line x1="1164" y1="1118" x2="1327" y2="1118" stroke="#00ff00" stroke-width="7.6"/><line x1="1164" y1="1200.1" x2="1327" y2="1200.1" stroke="#0000ff" stroke-width="6.7"/><line x1="1164" y1="1281.9" x2="1327" y2="1281.9" stroke="#ff0000" stroke-width="6.1"/></g><g font-family="Liberation Sans, Arial, sans-serif" font-size="60.4" fill="#000"><text transform="matrix(1.117,0,0,1,1346.7,1138.6)">Figure 5(b)</text><text transform="matrix(1.116,0,0,1,1344.4,1222.3)">Figure 5(a)</text><text transform="matrix(1.099,0,0,1,1345.3,1303.8)">Investigated structure</text></g></svg></body></html>
